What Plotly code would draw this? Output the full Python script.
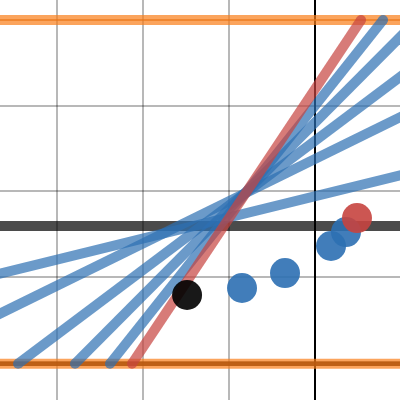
import plotly.graph_objects as go

# horizontal guide levels
top_level = 4.0
bottom_level = -0.02
mean_level = 1.59

# fitted lines, x where each meets the bottom and the top guide
blue_x_bottom = [-3.453, -2.791, -2.384, -4.849, -7.93]
blue_x_top = [1.872, 1.186, 0.791, 3.291, 8.35]
red_x_bottom = -2.128
red_x_top = 0.535

# data points
black_pt = (-1.488, 0.784)
blue_pts_x = [-0.849, -0.349, 0.186, 0.360]
blue_pts_y = [0.866, 1.041, 1.357, 1.520]
red_pt = (0.488, 1.684)

BLUE = "#2d70b3"
RED = "#c74440"
ORANGE = "#fa7e19"

fig = go.Figure()

far = [-20, 20]

# orange bounds
fig.add_trace(go.Scatter(x=far, y=[top_level] * 2, mode="lines",
                         line=dict(color=ORANGE, width=10), opacity=0.7))
fig.add_trace(go.Scatter(x=far, y=[top_level] * 2, mode="lines",
                         line=dict(color=ORANGE, width=2), opacity=0.5))
fig.add_trace(go.Scatter(x=far, y=[bottom_level] * 2, mode="lines",
                         line=dict(color=ORANGE, width=10), opacity=0.7))
fig.add_trace(go.Scatter(x=far, y=[bottom_level] * 2, mode="lines",
                         line=dict(color="#b8590f", width=4.5), opacity=0.9))

# mean line
fig.add_trace(go.Scatter(x=far, y=[mean_level] * 2, mode="lines",
                         line=dict(color="#000000", width=10), opacity=0.7))

# candidate lines (markers give them round ends)
for xb, xt in zip(blue_x_bottom, blue_x_top):
    fig.add_trace(go.Scatter(x=[xb, xt], y=[bottom_level, top_level],
                             mode="lines+markers",
                             line=dict(color=BLUE, width=10),
                             marker=dict(color=BLUE, size=10),
                             opacity=0.7))

fig.add_trace(go.Scatter(x=[red_x_bottom, red_x_top], y=[bottom_level, top_level],
                         mode="lines+markers",
                         line=dict(color=RED, width=10),
                         marker=dict(color=RED, size=10),
                         opacity=0.7))

# points
fig.add_trace(go.Scatter(x=[black_pt[0]], y=[black_pt[1]], mode="markers",
                         marker=dict(color="#000000", size=30), opacity=0.9))
for px, py in zip(blue_pts_x, blue_pts_y):
    fig.add_trace(go.Scatter(x=[px], y=[py], mode="markers",
                             marker=dict(color=BLUE, size=30), opacity=0.9))
fig.add_trace(go.Scatter(x=[red_pt[0]], y=[red_pt[1]], mode="markers",
                         marker=dict(color=RED, size=30), opacity=0.9))

fig.update_layout(
    width=400, height=400,
    margin=dict(l=0, r=0, t=0, b=0),
    plot_bgcolor="white", paper_bgcolor="white",
    showlegend=False,
    hovermode=False,
)
fig.update_xaxes(range=[-3.663, 0.988], dtick=1, tick0=0,
                 showgrid=True, gridcolor="rgba(0,0,0,0.28)", gridwidth=2,
                 zeroline=True, zerolinecolor="black", zerolinewidth=2,
                 showticklabels=False, ticks="")
fig.update_yaxes(range=[-0.444, 4.234], dtick=1, tick0=0,
                 showgrid=True, gridcolor="rgba(0,0,0,0.28)", gridwidth=2,
                 zeroline=False, showticklabels=False, ticks="")

# drop the page's default body margin so the chart sits at 0,0
fig.write_html("out.html", config={"displayModeBar": False},
               post_script="document.body.style.margin='0';")
